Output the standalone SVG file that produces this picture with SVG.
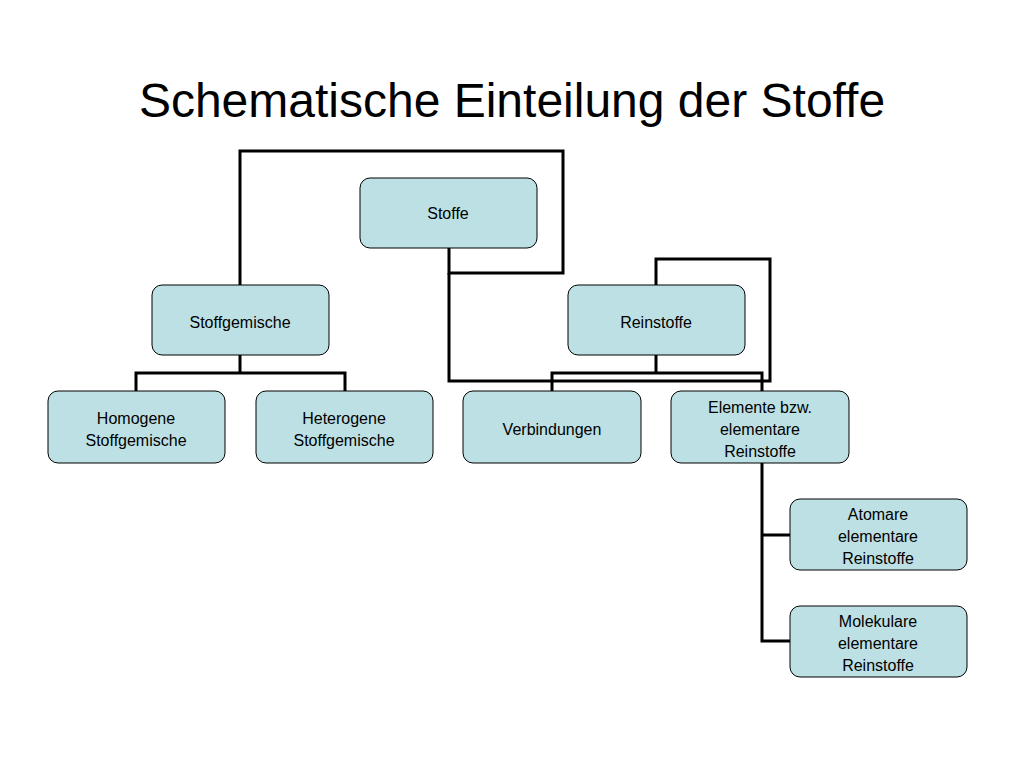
<svg xmlns="http://www.w3.org/2000/svg" width="1024" height="768" viewBox="0 0 1024 768">
<style>
.n rect{fill:#bde0e4;stroke:#000;stroke-width:1}
.n text{font-family:"Liberation Sans",Arial,sans-serif;font-size:16px;text-anchor:middle;fill:#000}
.c{fill:none;stroke:#000;stroke-width:3}
</style>
<rect width="1024" height="768" fill="#fff"/>
<text x="512" y="117" font-family="Liberation Sans,Arial,sans-serif" font-size="48" text-anchor="middle">Schematische Einteilung der Stoffe</text>
<g id="connectors" class="c">
<path class="c" d="M449 248V273H563V151H240V285"/>
<path class="c" d="M449 273V381H770V259H656V285"/>
<path class="c" d="M656 355V373M552 391V373H762V391"/>
<path class="c" d="M240 355V373M136 391V373H345V391"/>
<path class="c" d="M762 463V641H790M762 535H790"/>
</g>
<g id="stoffe" class="n"><rect x="360" y="178" width="177" height="70" rx="10"/><text x="448" y="219">Stoffe</text></g>
<g id="stoffgemische" class="n"><rect x="152" y="285" width="177" height="70" rx="10"/><text x="240" y="328">Stoffgemische</text></g>
<g id="reinstoffe" class="n"><rect x="568" y="285" width="177" height="70" rx="10"/><text x="656" y="328">Reinstoffe</text></g>
<g id="homogene" class="n"><rect x="48" y="391" width="177" height="72" rx="10"/><text x="136" y="424">Homogene</text><text x="136" y="446">Stoffgemische</text></g>
<g id="heterogene" class="n"><rect x="256" y="391" width="177" height="72" rx="10"/><text x="344" y="424">Heterogene</text><text x="344" y="446">Stoffgemische</text></g>
<g id="verbindungen" class="n"><rect x="463" y="391" width="178" height="72" rx="10"/><text x="552" y="435">Verbindungen</text></g>
<g id="elemente" class="n"><rect x="671" y="391" width="178" height="72" rx="10"/><text x="760" y="413">Elemente bzw.</text><text x="760" y="435">elementare</text><text x="760" y="457">Reinstoffe</text></g>
<g id="atomare" class="n"><rect x="790" y="499" width="177" height="71" rx="10"/><text x="878" y="520">Atomare</text><text x="878" y="542">elementare</text><text x="878" y="564">Reinstoffe</text></g>
<g id="molekulare" class="n"><rect x="790" y="606" width="177" height="71" rx="10"/><text x="878" y="627">Molekulare</text><text x="878" y="649">elementare</text><text x="878" y="671">Reinstoffe</text></g>
</svg>
